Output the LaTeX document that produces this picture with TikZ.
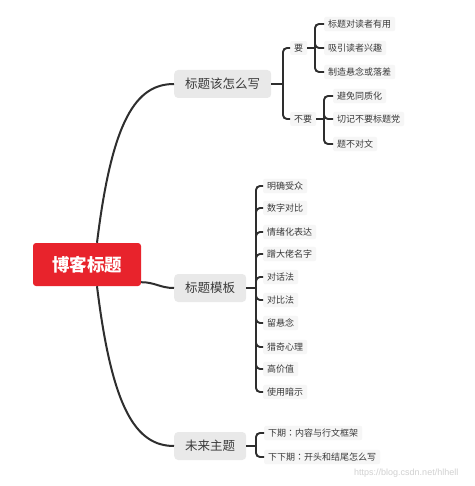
\documentclass[tikz,border=0pt]{standalone}
\usepackage{fontspec}
\setmainfont{Noto Sans CJK SC}
\newfontfamily\tcfont{Noto Sans CJK TC}
\newfontfamily\wmfont{Liberation Sans}
\definecolor{rootred}{HTML}{E8232C}
\definecolor{linec}{HTML}{2E2E2E}
\definecolor{boxg}{HTML}{E9E9E9}
\definecolor{leafbg}{HTML}{F6F6F6}
\definecolor{txt}{HTML}{3A3A3A}
\begin{document}
\begin{tikzpicture}[x=1pt,y=-1pt,
  conn/.style={draw=linec,line width=2pt},
  brk/.style={draw=linec,line width=1.9pt,rounded corners=4pt},
  rootbox/.style={fill=rootred,rounded corners=3pt,text=white,minimum width=108pt,minimum height=43pt,inner sep=0pt,font=\fontsize{17.5}{18}\selectfont\bfseries},
  branch/.style={fill=boxg,rounded corners=4pt,minimum height=28pt,inner xsep=11pt,inner ysep=0pt,anchor=west,text=txt,font=\fontsize{12.5}{13}\selectfont},
  leaf/.style={fill=leafbg,rounded corners=2pt,inner xsep=4pt,inner ysep=3pt,anchor=west,text=txt,font=\fontsize{9}{10}\selectfont}]
\useasboundingbox (0,0) rectangle (474,486);
\fill[white] (0,0) rectangle (474,486);

\node[rootbox] (root) at (87,264.5) {博客标题};
\node[branch] (b1) at (174,84) {标题该怎么写};
\node[branch] (b2) at (174,288) {标题模板};
\node[branch] (b3) at (174,446) {未来主题};

\draw[conn] ([xshift=10pt]root.north) .. controls +(15,-123) and +(-38,0) .. (b1.west);
\draw[conn] ([xshift=10pt]root.south) .. controls +(15,123) and +(-38,0) .. (b3.west);
\draw[conn] ([yshift=4pt]root.south east) .. controls +(14,0) and +(-14,0) .. (b2.west);

% branch 1
\node[leaf] (yao) at (290,48) {要};
\node[leaf] (buyao) at (290,119) {不要};
\draw[conn] (b1.east) -- (283,84) coordinate (j1);
\draw[brk] (j1) |- (yao.west);
\draw[brk] (j1) |- (buyao.west);

\node[leaf] (y1) at (324,24) {标题对读者有用};
\node[leaf] (y2) at (324,48) {吸引读者兴趣};
\node[leaf] (y3) at (324,72) {制造悬念或落差};
\draw[conn] (yao.east) -- (315,48) coordinate (j2);
\foreach \n in {y1,y2,y3} \draw[brk] (j2) |- (\n.west);

\node[leaf] (n1) at (333,96) {避免同质化};
\node[leaf] (n2) at (333,119) {切记不要标题党};
\node[leaf] (n3) at (333,144) {题不对文};
\draw[conn] (buyao.east) -- (324,119) coordinate (j3);
\foreach \n in {n1,n2,n3} \draw[brk] (j3) |- (\n.west);

% branch 2
\node[leaf] (t1) at (263,186) {明确受众};
\node[leaf] (t2) at (263,208) {数字对比};
\node[leaf] (t3) at (263,232) {情绪化表达};
\node[leaf] (t4) at (263,254) {蹭大佬名字};
\node[leaf] (t5) at (263,277) {对话法};
\node[leaf] (t6) at (263,300) {对比法};
\node[leaf] (t7) at (263,323) {留悬念};
\node[leaf] (t8) at (263,347) {猎奇心理};
\node[leaf] (t9) at (263,369) {高价值};
\node[leaf] (t10) at (263,392) {使用暗示};
\draw[conn] (b2.east) -- (256,288) coordinate (j4);
\foreach \n in {t1,t2,t3,t4,t5,t6,t7,t8,t9,t10} \draw[brk] (j4) |- (\n.west);

% branch 3
\node[leaf] (f1) at (264,433) {下期{\tcfont ：}内容与行文框架};
\node[leaf] (f2) at (264,457) {下下期{\tcfont ：}开头和结尾怎么写};
\draw[conn] (b3.east) -- (256,446) coordinate (j5);
\foreach \n in {f1,f2} \draw[brk] (j5) |- (\n.west);

\node[anchor=west,inner sep=0pt,text=black!18,font=\wmfont\fontsize{9}{10}\selectfont] (wm) at (354,473) {https://blog.csdn.net/hlhell};
\end{tikzpicture}
\end{document}
